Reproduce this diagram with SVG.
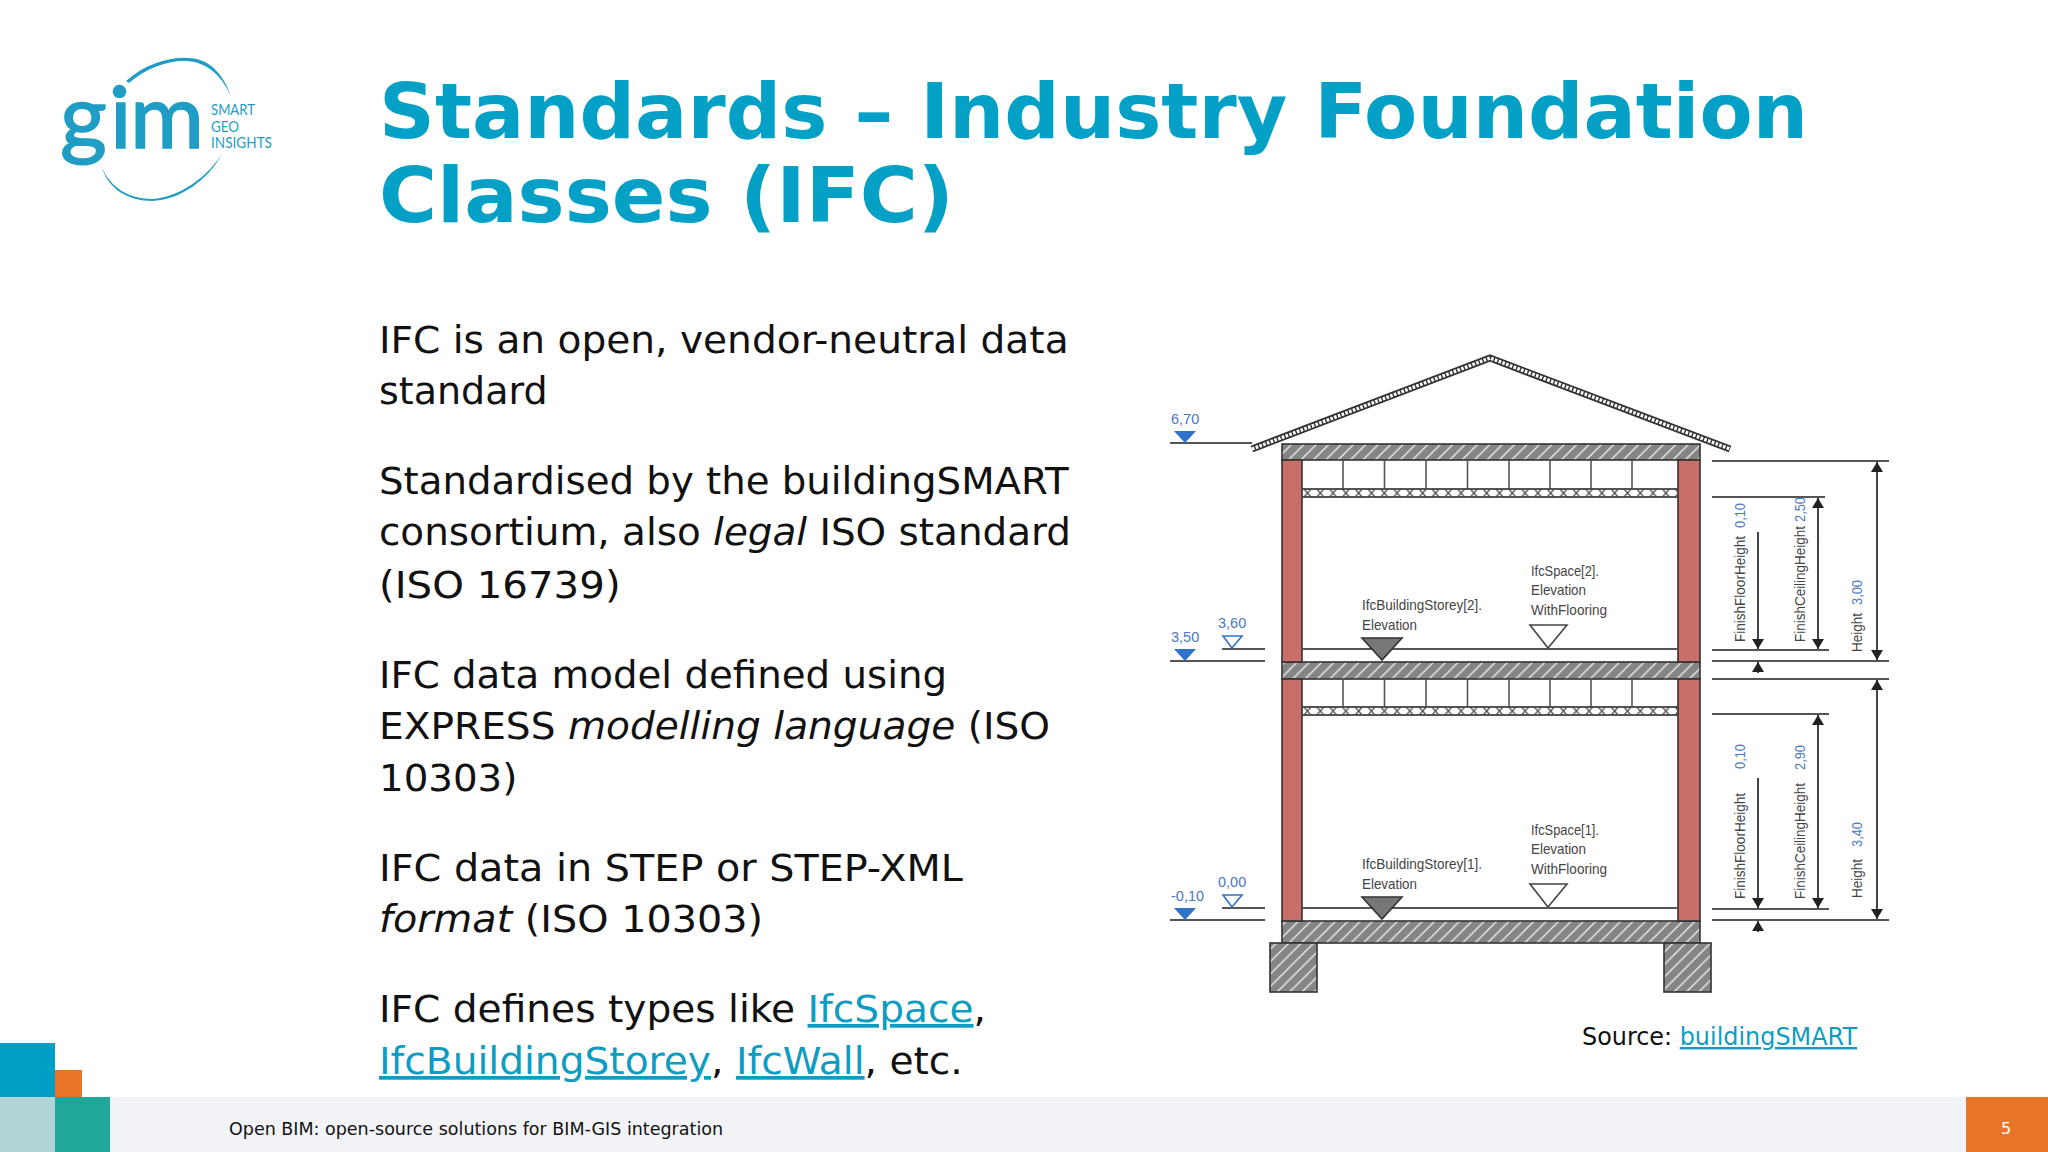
<svg xmlns="http://www.w3.org/2000/svg" width="2048" height="1152" viewBox="0 0 2048 1152">
<style>
.title{font:bold 76px "DejaVu Sans",Verdana,sans-serif;fill:#05a0c6}
.body{font:37px "DejaVu Sans",Verdana,sans-serif;fill:#111}
.link{fill:#0f9cc2;text-decoration:underline}
.i{font-style:italic}
.lbl{font:14.5px "Liberation Sans",Arial,sans-serif;fill:#444}
.val{font:14.5px "Liberation Sans",Arial,sans-serif;fill:#4a78c0}
.ln{stroke:#555;stroke-width:2;fill:none}
.dim{stroke:#444;stroke-width:2;fill:none}
.joist{stroke:#555;stroke-width:1.6}
.slab{fill:url(#hatch);stroke:#333;stroke-width:1.6}
.wall{fill:#c96f67;stroke:#333;stroke-width:1.6}
.truss{fill:url(#truss);stroke:#444;stroke-width:1.8}
.blue{fill:#2e73c9}
.open{fill:#fff;stroke:#444;stroke-width:1.6}
.openb{fill:#fff;stroke:#2e73c9;stroke-width:1.6}
.dark{fill:#777;stroke:#333;stroke-width:1.6}
.logo{font-family:Lato,sans-serif;fill:#1f9dc5}
</style>
<defs>
<pattern id="hatch" width="12.4" height="12.4" patternUnits="userSpaceOnUse">
<rect width="12.4" height="12.4" fill="#858585"/>
<path d="M-3.1,3.1L3.1,-3.1M0,12.4L12.4,0M9.3,15.5L15.5,9.3" stroke="#f2f2f2" stroke-width="1.3"/>
</pattern>
<pattern id="truss" x="1302" y="489" width="12.8" height="8.074" patternUnits="userSpaceOnUse">
<rect width="12.8" height="8.074" fill="#fff"/>
<path d="M2,8.074L9,0M2,0L9,8.074" stroke="#444" stroke-width="1.2"/>
</pattern>
<marker id="ah" viewBox="0 0 10 12" refX="10" refY="6" markerWidth="5" markerHeight="6.5" markerUnits="strokeWidth" orient="auto-start-reverse">
<path d="M0,0L10,6L0,12Z" fill="#222"/>
</marker>
<clipPath id="nodot"><rect x="40" y="100" width="180" height="70"/></clipPath>
</defs>
<rect width="2048" height="1152" fill="#fff"/>

<g id="logo">
<g clip-path="url(#nodot)">
<text class="logo" x="60 110 130" y="148" font-size="90" stroke="#1f9dc5" stroke-width="1.6">gim</text>
</g>
<circle cx="119.5" cy="91.5" r="6.8" fill="#1f9dc5"/>
<text class="logo" x="211" y="115" font-size="15" textLength="44" lengthAdjust="spacingAndGlyphs">SMART</text>
<text class="logo" x="211" y="132" font-size="15" textLength="28" lengthAdjust="spacingAndGlyphs">GEO</text>
<text class="logo" x="211" y="148" font-size="15" textLength="61" lengthAdjust="spacingAndGlyphs">INSIGHTS</text>
<path d="M126,81C150,60 180,54 200,60C215,65 226,80 231,97C224,80 213,68 198,63C178,57 150,65 129,83Z" fill="#1f9dc5"/>
<path d="M102,167C108,190 130,201 152,201C180,200 208,180 222,154C206,178 180,197 152,199C130,199 110,188 102,167Z" fill="#1f9dc5"/>
</g>

<g id="title">
<text class="title" x="379" y="138" textLength="1429" lengthAdjust="spacingAndGlyphs">Standards – Industry Foundation</text>
<text class="title" x="379" y="222" textLength="575" lengthAdjust="spacingAndGlyphs">Classes (IFC)</text>
</g>

<g id="body">
<text class="body" x="379" y="353" textLength="689.6" lengthAdjust="spacingAndGlyphs">IFC is an open, vendor-neutral data</text>
<text class="body" x="379" y="404" textLength="168.5" lengthAdjust="spacingAndGlyphs">standard</text>
<text class="body" x="379" y="494" textLength="689.6" lengthAdjust="spacingAndGlyphs">Standardised by the buildingSMART</text>
<text class="body" x="379" y="545" textLength="692" lengthAdjust="spacingAndGlyphs">consortium, also <tspan class="i">legal</tspan> ISO standard</text>
<text class="body" x="379" y="598" textLength="241.6" lengthAdjust="spacingAndGlyphs">(ISO 16739)</text>
<text class="body" x="379" y="688" textLength="568" lengthAdjust="spacingAndGlyphs">IFC data model defined using</text>
<text class="body" x="379" y="739" textLength="671" lengthAdjust="spacingAndGlyphs">EXPRESS <tspan class="i">modelling language</tspan> (ISO</text>
<text class="body" x="379" y="791" textLength="138.4" lengthAdjust="spacingAndGlyphs">10303)</text>
<text class="body" x="379" y="881" textLength="583.8" lengthAdjust="spacingAndGlyphs">IFC data in STEP or STEP-XML</text>
<text class="body" x="379" y="932" textLength="384" lengthAdjust="spacingAndGlyphs"><tspan class="i">format</tspan> (ISO 10303)</text>
<text class="body" x="379" y="1022" textLength="607" lengthAdjust="spacingAndGlyphs">IFC defines types like <tspan class="link">IfcSpace</tspan>,</text>
<text class="body" x="379" y="1074" textLength="583.8" lengthAdjust="spacingAndGlyphs"><tspan class="link">IfcBuildingStorey</tspan>, <tspan class="link">IfcWall</tspan>, etc.</text>
</g>

<g id="section">
<path d="M1252,449L1490,358L1730,449" fill="none" stroke="#333" stroke-width="7"/>
<path d="M1252,449L1490,358L1730,449" fill="none" stroke="#fff" stroke-width="3.4" stroke-dasharray="2.6 1.4"/>
<rect class="slab" x="1282" y="444" width="418" height="16"/>
<rect class="slab" x="1282" y="662" width="418" height="17"/>
<rect class="slab" x="1282" y="921" width="418" height="22"/>
<rect class="slab" x="1270" y="943" width="47" height="49"/>
<rect class="slab" x="1664" y="943" width="47" height="49"/>
<rect class="wall" x="1282" y="460" width="20" height="202"/>
<rect class="wall" x="1678" y="460" width="22" height="202"/>
<rect class="wall" x="1282" y="679" width="20" height="242"/>
<rect class="wall" x="1678" y="679" width="22" height="242"/>
<path class="joist" d="M1343,460V489M1384.5,460V489M1426,460V489M1467.5,460V489M1509,460V489M1550,460V489M1591,460V489M1632,460V489M1343,679V707M1384.5,679V707M1426,679V707M1467.5,679V707M1509,679V707M1550,679V707M1591,679V707M1632,679V707"/>
<rect class="truss" x="1302" y="489" width="376" height="8"/>
<rect class="truss" x="1302" y="707" width="376" height="8"/>
<path class="ln" d="M1302,649H1678M1302,908H1678"/>
</g>

<g id="levels">
<path class="ln" d="M1170,443H1252M1170,661H1265M1222,649H1265M1170,920H1265M1222,908H1265"/>
<path class="blue" d="M1174,431H1196L1185,443Z"/>
<path class="blue" d="M1174,649H1196L1185,661Z"/>
<path class="blue" d="M1174,908H1196L1185,920Z"/>
<path class="openb" d="M1223,636H1242L1232,648Z"/>
<path class="openb" d="M1223,895H1242L1232,907Z"/>
<text class="val" x="1171" y="424">6,70</text>
<text class="val" x="1171" y="642">3,50</text>
<text class="val" x="1218" y="628">3,60</text>
<text class="val" x="1171" y="901">-0,10</text>
<text class="val" x="1218" y="887">0,00</text>
</g>

<g id="storey2">
<path class="dark" d="M1362,638H1402L1382,660Z"/>
<path class="open" d="M1530,625H1567L1548,648Z"/>
<text class="lbl" x="1362" y="610" textLength="120" lengthAdjust="spacingAndGlyphs">IfcBuildingStorey[2].</text>
<text class="lbl" x="1362" y="630" textLength="55" lengthAdjust="spacingAndGlyphs">Elevation</text>
<text class="lbl" x="1531" y="576" textLength="68" lengthAdjust="spacingAndGlyphs">IfcSpace[2].</text>
<text class="lbl" x="1531" y="595" textLength="55" lengthAdjust="spacingAndGlyphs">Elevation</text>
<text class="lbl" x="1531" y="615" textLength="76" lengthAdjust="spacingAndGlyphs">WithFlooring</text>
</g>
<g id="storey1">
<path class="dark" d="M1362,897H1402L1382,919Z"/>
<path class="open" d="M1530,884H1567L1548,907Z"/>
<text class="lbl" x="1362" y="869" textLength="120" lengthAdjust="spacingAndGlyphs">IfcBuildingStorey[1].</text>
<text class="lbl" x="1362" y="889" textLength="55" lengthAdjust="spacingAndGlyphs">Elevation</text>
<text class="lbl" x="1531" y="835" textLength="68" lengthAdjust="spacingAndGlyphs">IfcSpace[1].</text>
<text class="lbl" x="1531" y="854" textLength="55" lengthAdjust="spacingAndGlyphs">Elevation</text>
<text class="lbl" x="1531" y="874" textLength="76" lengthAdjust="spacingAndGlyphs">WithFlooring</text>
</g>

<g id="dimensions">
<path class="ln" d="M1712,461H1889M1712,497H1825M1712,650H1829M1712,661H1889M1712,679H1889M1712,714H1829M1712,909H1829M1712,920H1889"/>
<g marker-end="url(#ah)" marker-start="url(#ah)">
<path class="dim" d="M1877,462V660"/>
<path class="dim" d="M1877,680V919"/>
<path class="dim" d="M1818,498V649"/>
<path class="dim" d="M1818,715V908"/>
</g>
<g marker-end="url(#ah)">
<path class="dim" d="M1758,532V649"/>
<path class="dim" d="M1758,778V908"/>
<path class="dim" d="M1758,673V662"/>
<path class="dim" d="M1758,932V921"/>
</g>
<text class="lbl" transform="translate(1745,642) rotate(-90)" textLength="106" lengthAdjust="spacingAndGlyphs">FinishFloorHeight</text>
<text class="val" transform="translate(1745,528) rotate(-90)" textLength="25" lengthAdjust="spacingAndGlyphs">0,10</text>
<text class="lbl" transform="translate(1805,642) rotate(-90)" textLength="116" lengthAdjust="spacingAndGlyphs">FinishCeilingHeight</text>
<text class="val" transform="translate(1805,522) rotate(-90)" textLength="25" lengthAdjust="spacingAndGlyphs">2,50</text>
<text class="lbl" transform="translate(1862,652) rotate(-90)" textLength="39" lengthAdjust="spacingAndGlyphs">Height</text>
<text class="val" transform="translate(1862,605) rotate(-90)" textLength="25" lengthAdjust="spacingAndGlyphs">3,00</text>
<text class="lbl" transform="translate(1745,899) rotate(-90)" textLength="106" lengthAdjust="spacingAndGlyphs">FinishFloorHeight</text>
<text class="val" transform="translate(1745,769) rotate(-90)" textLength="25" lengthAdjust="spacingAndGlyphs">0,10</text>
<text class="lbl" transform="translate(1805,899) rotate(-90)" textLength="116" lengthAdjust="spacingAndGlyphs">FinishCeilingHeight</text>
<text class="val" transform="translate(1805,770) rotate(-90)" textLength="25" lengthAdjust="spacingAndGlyphs">2,90</text>
<text class="lbl" transform="translate(1862,898) rotate(-90)" textLength="39" lengthAdjust="spacingAndGlyphs">Height</text>
<text class="val" transform="translate(1862,847) rotate(-90)" textLength="25" lengthAdjust="spacingAndGlyphs">3,40</text>
</g>

<text id="source" x="1582" y="1045" font-family="'DejaVu Sans',Verdana,sans-serif" font-size="23.9" fill="#111">Source: <tspan class="link">buildingSMART</tspan></text>

<g id="footer">
<rect x="110" y="1097" width="1856" height="55" fill="#f1f3f6"/>
<rect x="1966" y="1097" width="82" height="55" fill="#ea7427"/>
<rect x="0" y="1043" width="55" height="54" fill="#019fc6"/>
<rect x="55" y="1070" width="27" height="27" fill="#ea7427"/>
<rect x="0" y="1097" width="55" height="55" fill="#b2d4d6"/>
<rect x="55" y="1097" width="55" height="55" fill="#1fa89a"/>
<text x="229" y="1135" font-family="'DejaVu Sans',Verdana,sans-serif" font-size="17.5" fill="#111">Open BIM: open-source solutions for BIM-GIS integration</text>
<text x="2006" y="1134" text-anchor="middle" font-family="'DejaVu Sans',Verdana,sans-serif" font-size="16" fill="#fff">5</text>
</g>
</svg>
